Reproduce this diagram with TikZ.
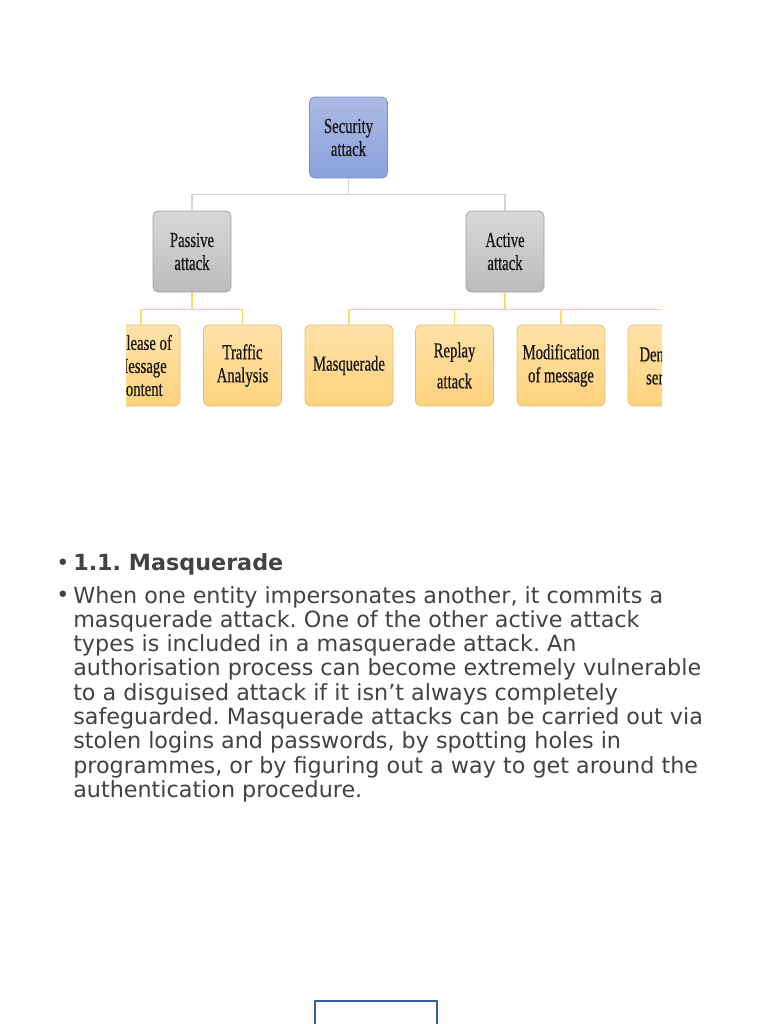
\documentclass[tikz,border=0pt]{standalone}
\usepackage{fontspec}
\setmainfont{DejaVu Sans}
\newfontfamily\chartfont[FakeStretch=0.69,FakeBold=0.6]{Liberation Serif}
\usepackage{tikz}
\usetikzlibrary{positioning,calc}
\definecolor{sectop}{RGB}{172,187,229}
\definecolor{secbot}{RGB}{138,160,218}
\definecolor{secedge}{RGB}{122,142,200}
\definecolor{graytop}{RGB}{216,216,216}
\definecolor{graybot}{RGB}{188,188,188}
\definecolor{grayedge}{RGB}{160,160,160}
\definecolor{ambtop}{RGB}{255,226,168}
\definecolor{ambbot}{RGB}{255,210,125}
\definecolor{ambedge}{RGB}{226,190,122}
\definecolor{graylink}{RGB}{212,212,212}
\definecolor{amblink}{RGB}{255,216,105}
\definecolor{bodytext}{RGB}{66,66,66}
\definecolor{frameblue}{RGB}{58,95,150}
\frenchspacing

\begin{document}
\begin{tikzpicture}[x=0.75pt, y=-0.75pt, every node/.style={inner sep=0pt}]
  \tikzstyle{chartbox}=[rounded corners=4pt, minimum width=58.5pt, minimum height=60.75pt, align=center, line width=0.6pt, text=black!90, font=\chartfont\fontsize{16}{17.25}\selectfont]
  \tikzstyle{topbox}=[chartbox, draw=secedge, top color=sectop, bottom color=secbot]
  \tikzstyle{midbox}=[chartbox, draw=grayedge, top color=graytop, bottom color=graybot]
  \tikzstyle{leafbox}=[chartbox, draw=ambedge, top color=ambtop, bottom color=ambbot]
  \tikzstyle{bodyfont}=[text=bodytext, font=\fontsize{16.7}{18.2}\selectfont]
  \useasboundingbox (0,0) rectangle (768,1024);
  % chart
  \node[topbox] (sec) at (348.5,137.5) {Security\\attack};
  \node[midbox] (pas) at (192,251.5) {Passive\\attack};
  \node[midbox] (act) at (505,251.5) {Active\\attack};
  \draw[graylink, line width=0.8pt] (sec.south) -- ++(0,16) -| (pas.north);
  \draw[graylink, line width=0.8pt] (sec.south) -- ++(0,16) -| (act.north);
  \begin{scope}
    \clip (126,290) rectangle (662,420);
    \node[leafbox] (rel) at (141,365.5) {Release of\\Message\\content};
    \node[leafbox] (tra) at (242.5,365.5) {Traffic\\Analysis};
    \node[leafbox, minimum width=66pt] (mas) at (349,365.5) {Masquerade};
    \node[leafbox] (rep) at (454.5,365.5) {Replay\\[6pt]attack};
    \node[leafbox, minimum width=66pt] (mod) at (561,365.5) {Modification\\of message};
    \node[leafbox] (den) at (667,365.5) {Denial of\\service};
    \foreach \leaf in {rel,tra}
      \draw[amblink, line width=1.1pt] (pas.south) -- ++(0,17) -| (\leaf.north);
    \foreach \leaf in {mas,rep,mod,den}
      \draw[amblink, line width=1.1pt] (act.south) -- ++(0,17) -| (\leaf.north);
  \end{scope}
  % bullet text
  \node[bodyfont, anchor=base west] (dot1) at (56,570) {•};
  \node[bodyfont, anchor=base west, font=\fontsize{16.7}{18.2}\selectfont\bfseries] (head) at (73,570) {1.1. Masquerade};
  \node[bodyfont, anchor=base west] (dot2) at (56,602) {•};
  \node[bodyfont, anchor=north west, align=left] (body) at (73,586) {When one entity impersonates another, it commits a\\
    masquerade attack. One of the other active attack\\
    types is included in a masquerade attack. An\\
    authorisation process can become extremely vulnerable\\
    to a disguised attack if it isn’t always completely\\
    safeguarded. Masquerade attacks can be carried out via\\
    stolen logins and passwords, by spotting holes in\\
    programmes, or by figuring out a way to get around the\\
    authentication procedure.};
  % frame at the foot
  \draw[frameblue, line width=1.5pt] (315,1030) |- (437,1001) -- (437,1030);
\end{tikzpicture}
\end{document}
